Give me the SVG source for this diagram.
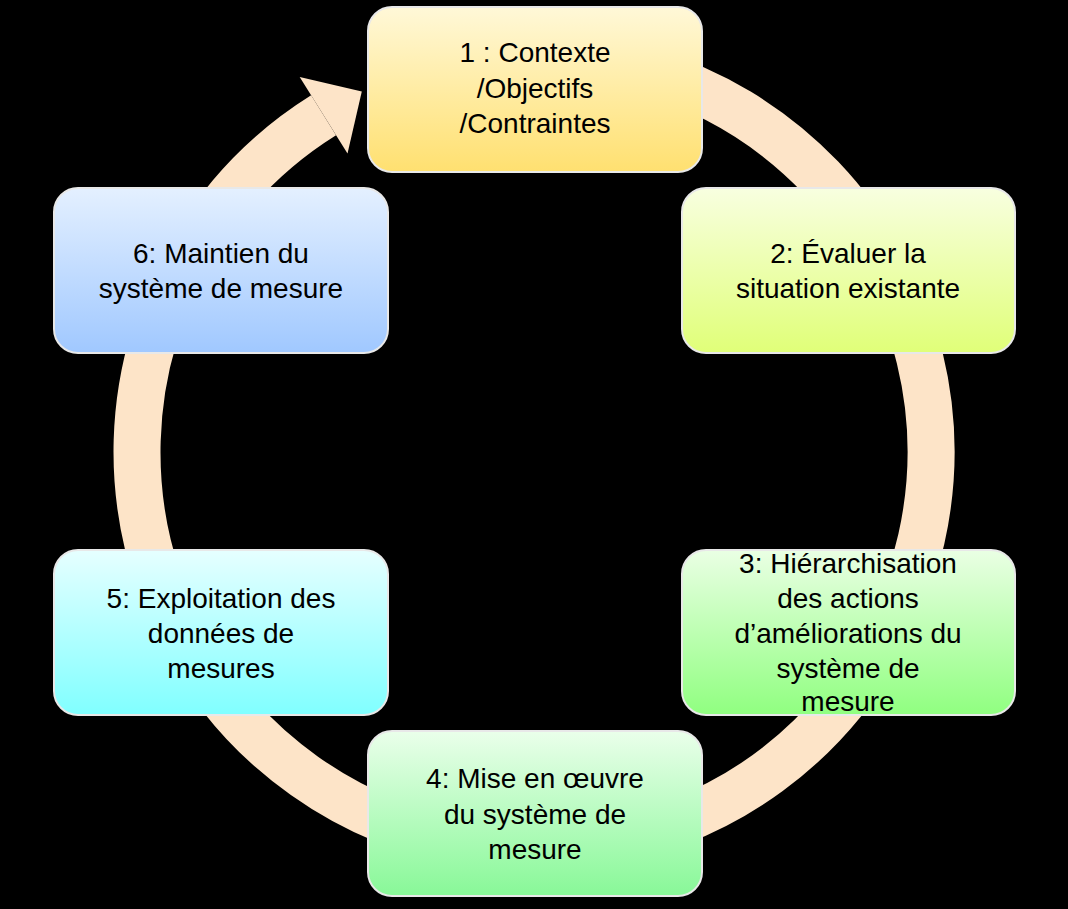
<svg xmlns="http://www.w3.org/2000/svg" width="1068" height="909" viewBox="0 0 1068 909">
<style>
.box{stroke:#e8e8e8;stroke-width:2}
text{font-family:"Liberation Sans",Arial,sans-serif;font-size:28px;fill:#000;text-anchor:middle}
</style>
<defs>
<linearGradient id="g1" x1="0" y1="0" x2="0" y2="1"><stop offset="0" stop-color="#fff8d8"/><stop offset="1" stop-color="#ffe070"/></linearGradient>
<linearGradient id="g2" x1="0" y1="0" x2="0" y2="1"><stop offset="0" stop-color="#f8ffe0"/><stop offset="1" stop-color="#e0ff78"/></linearGradient>
<linearGradient id="g3" x1="0" y1="0" x2="0" y2="1"><stop offset="0" stop-color="#eaffe4"/><stop offset="1" stop-color="#90ff80"/></linearGradient>
<linearGradient id="g4" x1="0" y1="0" x2="0" y2="1"><stop offset="0" stop-color="#eaffea"/><stop offset="1" stop-color="#88f898"/></linearGradient>
<linearGradient id="g5" x1="0" y1="0" x2="0" y2="1"><stop offset="0" stop-color="#e6ffff"/><stop offset="1" stop-color="#80ffff"/></linearGradient>
<linearGradient id="g6" x1="0" y1="0" x2="0" y2="1"><stop offset="0" stop-color="#e4f0ff"/><stop offset="1" stop-color="#a0c8ff"/></linearGradient>
</defs>
<rect width="1068" height="909" fill="#000"/>
<g id="connectors">
<path d="M465,61 A397,397 0 1 1 323.6,115.3" fill="none" stroke="#fde4c8" stroke-width="47"/>
<polygon points="299.7,77.1 361.8,91.5 347.5,153.5" fill="#fde4c8"/>
</g>
<g id="n1"><rect class="box" x="368" y="7" width="334" height="165" rx="24" fill="url(#g1)"/>
<text x="535" y="62">1 : Contexte</text><text x="535" y="98">/Objectifs</text><text x="535" y="133">/Contraintes</text></g>
<g id="n2"><rect class="box" x="682" y="188" width="333" height="165" rx="24" fill="url(#g2)"/>
<text x="848" y="263">2: Évaluer la</text><text x="848" y="298">situation existante</text></g>
<g id="n3"><rect class="box" x="682" y="550" width="333" height="165" rx="24" fill="url(#g3)"/>
<text x="848" y="573">3: Hiérarchisation</text><text x="848" y="608">des actions</text><text x="848" y="643">d’améliorations du</text><text x="848" y="678">système de</text><text x="848" y="711">mesure</text></g>
<g id="n4"><rect class="box" x="368" y="731" width="334" height="165" rx="24" fill="url(#g4)"/>
<text x="535" y="788">4: Mise en œuvre</text><text x="535" y="824">du système de</text><text x="535" y="859">mesure</text></g>
<g id="n5"><rect class="box" x="54" y="550" width="334" height="165" rx="24" fill="url(#g5)"/>
<text x="221" y="608">5: Exploitation des</text><text x="221" y="643">données de</text><text x="221" y="678">mesures</text></g>
<g id="n6"><rect class="box" x="54" y="188" width="334" height="165" rx="24" fill="url(#g6)"/>
<text x="221" y="263">6: Maintien du</text><text x="221" y="298">système de mesure</text></g>
</svg>
